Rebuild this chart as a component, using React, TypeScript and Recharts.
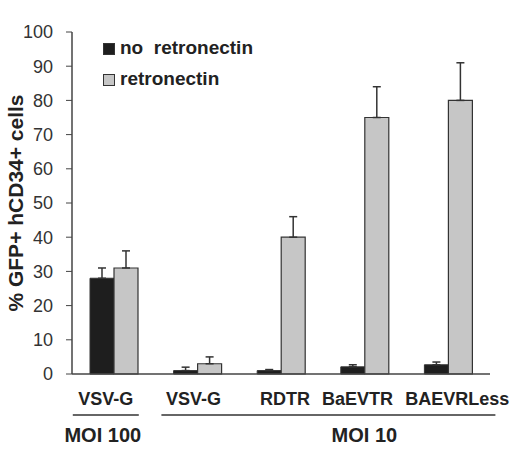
import React from 'react';
import {
  Bar,
  BarChart,
  ErrorBar,
  Legend,
  XAxis,
  YAxis,
} from 'recharts';

const FONT = '"Liberation Sans", Arial, Helvetica, sans-serif';
const BLACK = '#1e1e1e';
const GREY = '#c6c6c6';
const EDGE = '#333333';
const AXIS = '#444444';

// values
const categories = ['VSV-G', 'VSV-G', 'RDTR', 'BaEVTR', 'BAEVRLess'];
const noRetronectin = [28, 1, 1, 2.1, 2.7];
const noRetronectinErr = [3, 1, 0.3, 0.6, 0.8];
const retronectin = [31, 3, 40, 75, 80];
const retronectinErr = [5, 2, 6, 9, 11];
const yTicks = [0, 10, 20, 30, 40, 50, 60, 70, 80, 90, 100];

const data = categories.map((name, i) => ({
  name,
  noRetro: noRetronectin[i],
  noRetroErr: [0, noRetronectinErr[i]],
  retro: retronectin[i],
  retroErr: [0, retronectinErr[i]],
}));

const legendItems = [
  { label: 'no  retronectin', fill: BLACK },
  { label: 'retronectin', fill: GREY },
];

// the original labels were hand-placed, not exactly under the bar pairs
const LABEL_NUDGE = [-8, -4, 4, -7, 9];

// category labels plus the MOI group brackets underneath
function CategoryTick(props: any) {
  const { x, y, payload, index } = props;
  const base = y + 23;
  return (
    <g>
      <text
        x={x + (LABEL_NUDGE[index] ?? 0)}
        y={base}
        textAnchor="middle"
        fontFamily={FONT}
        fontWeight={700}
        fontSize={18}
        fill="#222"
      >
        {payload.value}
      </text>
      {index === 0 && (
        <g>
          <line x1={x - 41} x2={x + 25} y1={base + 10} y2={base + 10} stroke={EDGE} strokeWidth={1.5} />
          <text x={x - 11} y={base + 37} textAnchor="middle" fontFamily={FONT} fontWeight={700} fontSize={20} fill="#222">
            MOI 100
          </text>
        </g>
      )}
      {index === 1 && (
        <g>
          <line x1={x - 36} x2={x + 298} y1={base + 10} y2={base + 10} stroke={EDGE} strokeWidth={1.5} />
          <text x={x + 167} y={base + 37} textAnchor="middle" fontFamily={FONT} fontWeight={700} fontSize={20} fill="#222">
            MOI 10
          </text>
        </g>
      )}
    </g>
  );
}

function YLabel(props: any) {
  const { viewBox } = props;
  const cy = viewBox.y + viewBox.height / 2;
  const cx = 15;
  return (
    <text
      x={cx}
      y={cy}
      transform={`rotate(-90 ${cx} ${cy})`}
      textAnchor="middle"
      dominantBaseline="central"
      fontFamily={FONT}
      fontWeight={700}
      fontSize={21}
      fill="#222"
    >
      % GFP+ hCD34+ cells
    </text>
  );
}

function LegendBox() {
  return (
    <div style={{ fontFamily: FONT, fontWeight: 700, fontSize: 19, color: '#222' }}>
      {legendItems.map((it) => (
        <div key={it.label} style={{ display: 'flex', alignItems: 'center', height: 31, whiteSpace: 'pre' }}>
          <span
            style={{
              display: 'inline-block',
              width: 10,
              height: 10,
              background: it.fill,
              border: `1px solid ${EDGE}`,
              marginRight: 5,
              marginTop: 3,
            }}
          />
          <span>{it.label}</span>
        </div>
      ))}
    </div>
  );
}

export default function App() {
  return (
    <div style={{ position: 'absolute', left: 0, top: 0, width: 518, height: 450, background: '#fff' }}>
      <BarChart
        width={518}
        height={450}
        data={data}
        margin={{ top: 32, right: 28, bottom: 6, left: 22 }}
        barGap={0}
        barSize={24}
      >
        <XAxis
          dataKey="name"
          height={70}
          axisLine={{ stroke: AXIS, strokeWidth: 1.5 }}
          tickLine={false}
          tick={<CategoryTick />}
          interval={0}
        />
        <XAxis xAxisId="top" orientation="top" dataKey="name" height={0} tick={false} tickLine={false} axisLine={{ stroke: '#666', strokeWidth: 1.5 }} />
        <YAxis
          domain={[0, 100]}
          ticks={yTicks}
          width={50}
          tickSize={6}
          tickMargin={13}
          axisLine={{ stroke: AXIS, strokeWidth: 1.5 }}
          tickLine={{ stroke: AXIS }}
          tick={{ fontFamily: FONT, fontSize: 18, fill: '#333' }}
          interval={0}
          label={<YLabel />}
        />
        <YAxis yAxisId="right" orientation="right" domain={[0, 100]} width={0} tick={false} tickLine={false} axisLine={{ stroke: '#666', strokeWidth: 1.5 }} />
        <Legend
          layout="horizontal"
          verticalAlign="middle"
          align="center"
          content={() => <LegendBox />}
          wrapperStyle={{ top: 32, left: 103, width: 'auto' }}
        />
        <Bar dataKey="noRetro" name="no  retronectin" fill={BLACK} stroke={EDGE} strokeWidth={1} isAnimationActive={false}>
          <ErrorBar dataKey="noRetroErr" width={4} stroke={EDGE} strokeWidth={1.5} direction="y" />
        </Bar>
        <Bar dataKey="retro" name="retronectin" fill={GREY} stroke={EDGE} strokeWidth={1.2} isAnimationActive={false}>
          <ErrorBar dataKey="retroErr" width={4} stroke={EDGE} strokeWidth={1.5} direction="y" />
        </Bar>
      </BarChart>
    </div>
  );
}
